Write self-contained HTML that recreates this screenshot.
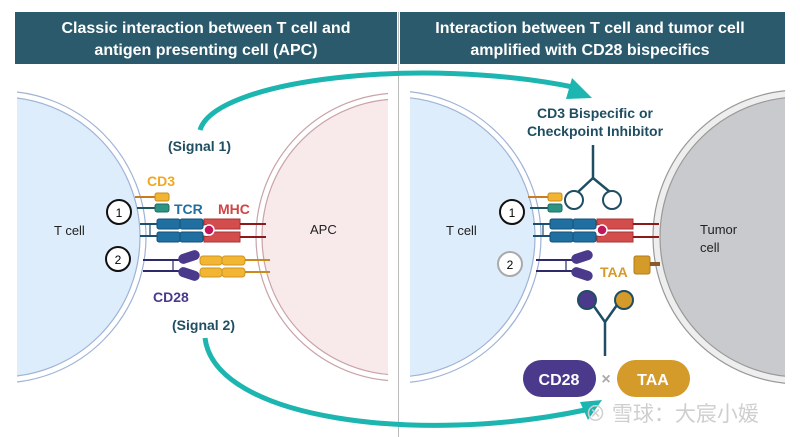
<!DOCTYPE html>
<html><head><meta charset="utf-8"><style>
html,body{margin:0;padding:0;background:#fff;}
svg{display:block;}
text{font-family:"Liberation Sans",sans-serif;}
</style></head><body>
<svg width="800" height="437" viewBox="0 0 800 437" xmlns="http://www.w3.org/2000/svg">
<defs>
<clipPath id="cl"><rect x="17" y="63" width="371" height="374"/></clipPath>
<clipPath id="cr"><rect x="410" y="63" width="375" height="374"/></clipPath>
</defs>
<rect width="800" height="437" fill="#fff"/>
<rect x="15" y="12" width="382" height="52" fill="#2a5a6c"/>
<rect x="400" y="12" width="385" height="52" fill="#2a5a6c"/>
<line x1="398.5" y1="12" x2="398.5" y2="437" stroke="#bbb" stroke-width="1"/>
<text x="206" y="33" fill="#fff" font-size="16" font-weight="bold" text-anchor="middle">Classic interaction between T cell and</text>
<text x="206" y="55" fill="#fff" font-size="16" font-weight="bold" text-anchor="middle">antigen presenting cell (APC)</text>
<text x="590" y="33" fill="#fff" font-size="16" font-weight="bold" text-anchor="middle">Interaction between T cell and tumor cell</text>
<text x="590" y="55" fill="#fff" font-size="16" font-weight="bold" text-anchor="middle">amplified with CD28 bispecifics</text>

<g clip-path="url(#cl)">
<circle cx="0" cy="237" r="146" fill="#fff" stroke="#9fb3d6" stroke-width="1.2"/>
<circle cx="0" cy="237" r="140" fill="#ddedfb" stroke="#9fb3d6" stroke-width="1.2"/>
<circle cx="400" cy="237" r="144" fill="#fff" stroke="#c9a3a8" stroke-width="1.2"/>
<circle cx="400" cy="237" r="138" fill="#f8e9eb" stroke="#c9a3a8" stroke-width="1.2"/>
</g>
<g clip-path="url(#cr)">
<circle cx="395" cy="237" r="146" fill="#fff" stroke="#9fb3d6" stroke-width="1.2"/>
<circle cx="395" cy="237" r="140" fill="#ddedfb" stroke="#9fb3d6" stroke-width="1.2"/>
<circle cx="800" cy="237" r="147" fill="#eee" stroke="#999" stroke-width="1.2"/>
<circle cx="800" cy="237" r="140" fill="#c8cacd" stroke="#999" stroke-width="1.2"/>
</g>

<path d="M200 130 C215 80 420 55 578 88" fill="none" stroke="#1db5b0" stroke-width="5"/>
<polygon points="572,78 592,98 566,99" fill="#1db5b0"/>
<path d="M205 338 C215 420 420 445 585 410" fill="none" stroke="#1db5b0" stroke-width="5"/>
<polygon points="580,402 602,400 588,420" fill="#1db5b0"/>

<g id="mol">
<line x1="135" y1="197" x2="155" y2="197" stroke="#c97d20" stroke-width="2"/>
<rect x="155" y="193" width="14" height="8" rx="2" fill="#f1b532" stroke="#c98b1c"/>
<line x1="137" y1="208" x2="155" y2="208" stroke="#1f5560" stroke-width="2"/>
<rect x="155" y="204" width="14" height="8" rx="2" fill="#2b9484" stroke="#1f6d60"/>
<line x1="140" y1="224" x2="158" y2="224" stroke="#1f4e6e" stroke-width="2"/>
<line x1="140" y1="236" x2="158" y2="236" stroke="#1f4e6e" stroke-width="2"/>
<line x1="150" y1="224" x2="150" y2="236" stroke="#1f4e6e" stroke-width="1.2"/>
<rect x="157" y="219" width="23" height="10" rx="2" fill="#1f6fa0" stroke="#15527a"/>
<rect x="180" y="219" width="23" height="10" rx="2" fill="#1f6fa0" stroke="#15527a"/>
<rect x="157" y="232" width="23" height="10" rx="2" fill="#1f6fa0" stroke="#15527a"/>
<rect x="180" y="232" width="23" height="10" rx="2" fill="#1f6fa0" stroke="#15527a"/>
<path d="M204 219 H240 V229 H212 A6 6 0 0 0 204 225 Z" fill="#d44d4d" stroke="#a83333"/>
<path d="M204 242 H240 V232 H212 A6 6 0 0 1 204 236 Z" fill="#d44d4d" stroke="#a83333"/>
<line x1="240" y1="224" x2="266" y2="224" stroke="#8b1a1a" stroke-width="2"/>
<line x1="240" y1="237" x2="266" y2="237" stroke="#8b1a1a" stroke-width="2"/>
<circle cx="209" cy="230" r="5" fill="#c2185b" stroke="#fff" stroke-width="1.5"/>
<line x1="143" y1="260" x2="180" y2="260" stroke="#2e2a6a" stroke-width="2"/>
<line x1="143" y1="271" x2="180" y2="271" stroke="#2e2a6a" stroke-width="2"/>
<line x1="173" y1="260" x2="173" y2="271" stroke="#2e2a6a" stroke-width="1.2"/>
<rect x="178" y="252" width="22" height="10" rx="5" fill="#4b3a8c" transform="rotate(-18 189 257)"/>
<rect x="178" y="269" width="22" height="10" rx="5" fill="#4b3a8c" transform="rotate(18 189 274)"/>
</g>
<rect x="200" y="256" width="22" height="9" rx="3" fill="#f2b632" stroke="#d09520"/>
<rect x="222" y="256" width="23" height="9" rx="3" fill="#f2b632" stroke="#d09520"/>
<rect x="200" y="268" width="22" height="9" rx="3" fill="#f2b632" stroke="#d09520"/>
<rect x="222" y="268" width="23" height="9" rx="3" fill="#f2b632" stroke="#d09520"/>
<line x1="245" y1="260" x2="270" y2="260" stroke="#c98b1c" stroke-width="2"/>
<line x1="245" y1="272" x2="270" y2="272" stroke="#c98b1c" stroke-width="2"/>

<circle cx="119" cy="212" r="12" fill="#fff" stroke="#111" stroke-width="2"/>
<text x="119" y="217" font-size="12" text-anchor="middle">1</text>
<circle cx="118" cy="259" r="12" fill="#fff" stroke="#111" stroke-width="2"/>
<text x="118" y="264" font-size="12" text-anchor="middle">2</text>

<text x="147" y="186" font-size="14" font-weight="bold" fill="#f1a820">CD3</text>
<text x="174" y="214" font-size="14" font-weight="bold" fill="#1f6fa0">TCR</text>
<text x="218" y="214" font-size="14" font-weight="bold" fill="#d04444">MHC</text>
<text x="153" y="302" font-size="14" font-weight="bold" fill="#4b3a8c">CD28</text>
<text x="168" y="151" font-size="14" font-weight="bold" fill="#1f4e62">(Signal 1)</text>
<text x="172" y="330" font-size="14" font-weight="bold" fill="#1f4e62">(Signal 2)</text>
<text x="54" y="235" font-size="13" fill="#222">T cell</text>
<text x="310" y="234" font-size="13" fill="#222">APC</text>

<g transform="translate(393,0)">
<use href="#mol"/>
</g>
<line x1="633" y1="224" x2="656" y2="224" stroke="#8b1a1a" stroke-width="2"/>
<line x1="633" y1="237" x2="656" y2="237" stroke="#8b1a1a" stroke-width="2"/>
<circle cx="512" cy="212" r="12" fill="#fff" stroke="#111" stroke-width="2"/>
<text x="512" y="217" font-size="12" text-anchor="middle">1</text>
<circle cx="510" cy="264" r="12" fill="#fff" stroke="#aaa" stroke-width="2"/>
<text x="510" y="269" font-size="12" text-anchor="middle">2</text>
<text x="446" y="235" font-size="13" fill="#222">T cell</text>
<text x="700" y="234" font-size="13" fill="#222">Tumor</text>
<text x="700" y="252" font-size="13" fill="#222">cell</text>

<text x="595" y="118" font-size="14" font-weight="bold" fill="#1f4e62" text-anchor="middle">CD3 Bispecific or</text>
<text x="595" y="136" font-size="14" font-weight="bold" fill="#1f4e62" text-anchor="middle">Checkpoint Inhibitor</text>
<g fill="none" stroke="#1f4e62" stroke-width="2.5">
<line x1="593" y1="145" x2="593" y2="178"/>
<line x1="593" y1="178" x2="578" y2="192"/>
<line x1="593" y1="178" x2="610" y2="192"/>
</g>
<circle cx="574" cy="200" r="9" fill="#fff" stroke="#1f4e62" stroke-width="2"/>
<circle cx="612" cy="200" r="9" fill="#fff" stroke="#1f4e62" stroke-width="2"/>
<rect x="634" y="256" width="16" height="18" rx="2" fill="#d49a2a" stroke="#b07d18"/>
<line x1="650" y1="264" x2="660" y2="264" stroke="#8a5a2a" stroke-width="4"/>
<text x="600" y="277" font-size="14" font-weight="bold" fill="#d49a2a">TAA</text>
<g fill="none" stroke="#1f4e62" stroke-width="2.5">
<line x1="593" y1="305" x2="605" y2="322"/>
<line x1="617" y1="305" x2="605" y2="322"/>
<line x1="605" y1="322" x2="605" y2="356"/>
</g>
<circle cx="587" cy="300" r="9" fill="#4b3a8c" stroke="#1f4e62" stroke-width="2"/>
<circle cx="624" cy="300" r="9" fill="#d49a2a" stroke="#1f4e62" stroke-width="2"/>
<rect x="523" y="360" width="73" height="37" rx="18.5" fill="#4b3a8c"/>
<text x="559" y="385" font-size="16" font-weight="bold" fill="#fff" text-anchor="middle">CD28</text>
<text x="606" y="384" font-size="16" font-weight="bold" fill="#aaa" text-anchor="middle">×</text>
<rect x="617" y="360" width="73" height="37" rx="18.5" fill="#d49a2a"/>
<text x="653" y="385" font-size="16" font-weight="bold" fill="#fff" text-anchor="middle">TAA</text>
<text x="585" y="421" font-size="21" fill="#cfcfcf" font-family="'Liberation Sans','Noto Sans CJK SC',sans-serif">⊗ 雪球：大宸小媛</text>
</svg>
</body></html>
